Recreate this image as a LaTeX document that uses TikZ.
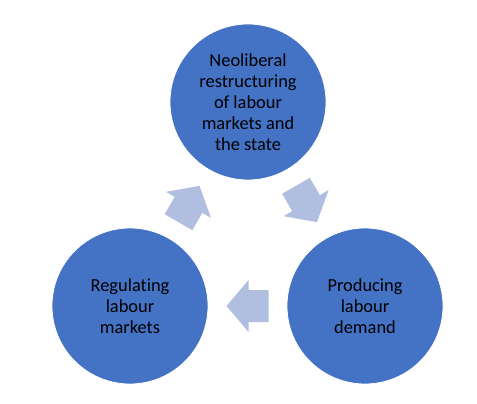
\documentclass[tikz,border=0pt]{standalone}
\usepackage{fontspec}
\setmainfont[Ligatures=NoCommon]{Carlito}
\usetikzlibrary{calc}
\definecolor{circblue}{HTML}{4472C4}
\definecolor{arrowfill}{HTML}{B0BEE0}
\tikzset{
  phase/.style={circle, fill=circblue, draw=white, line width=0.8pt, minimum size=156pt, inner sep=0pt,
    align=center, text=black, font=\fontsize{18.4}{21}\selectfont},
  blockarrow/.pic={
    \fill[arrowfill] (-21,-16) -- (-1,-16) -- (-1,-26) -- (21,0) -- (-1,26) -- (-1,16) -- (-21,16) -- cycle;
  }
}
\begin{document}
\begin{tikzpicture}[x=1pt,y=-1pt]
\useasboundingbox (0,0) rectangle (477,404);
\node[phase] (t) at (248,102) {Neoliberal\\restructuring\\of labour\\markets and\\the state};
\node[phase] (r) at (365,306) {Producing\\labour\\demand};
\node[phase] (l) at (130,306) {Regulating\\labour\\markets};
\pic[rotate=-60] at ($(t)!0.5!(r)$) {blockarrow};
\pic[rotate=180] at ($(r)!0.5!(l)$) {blockarrow};
\pic[rotate=60] at ($(l)!0.5!(t)$) {blockarrow};
\end{tikzpicture}
\end{document}
